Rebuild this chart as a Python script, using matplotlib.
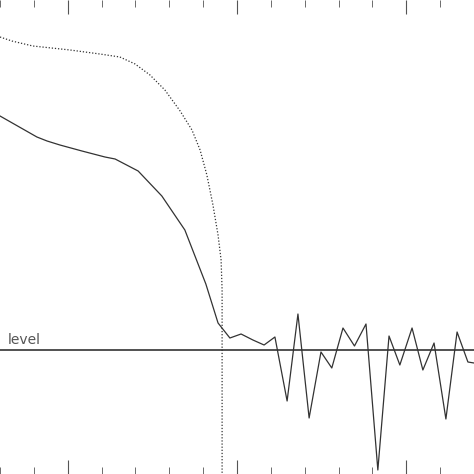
import matplotlib
matplotlib.use("Agg")
import matplotlib.pyplot as plt
import numpy as np

# values (x in tick units, y relative to the level line)
solid_x = [0, 1.09, 1.39, 1.77, 2.42, 3.10, 3.40, 4.08, 4.78, 5.46, 6.08, 6.44, 6.79, 7.12,
           7.47, 7.80, 8.12, 8.48, 8.80, 9.13, 9.48, 9.80, 10.13, 10.47, 10.81, 11.16, 11.49,
           11.81, 12.17, 12.49, 12.82, 13.17, 13.50, 13.82, 14.0]
solid_y = [234, 213, 209, 205, 199, 193, 191, 179, 154, 120, 66, 27, 12, 16, 10, 5, 13,
           -51, 36, -68, -2, -18, 22, 4, 26, -120, 14, -15, 22, -20, 7, -69, 18, -12, -13]
dot_x = [0, 0.35, 0.97, 2.07, 2.95, 3.54, 3.99, 4.43, 4.87, 5.32, 5.67, 5.91, 6.11,
         6.29, 6.44, 6.53, 6.56, 6.56]
dot_y = [313, 309, 304, 300, 296, 293, 286, 275, 260, 239, 220, 200, 175, 145, 115, 90, 60, -124]
level = 0

fig = plt.figure(figsize=(4.74, 4.74), dpi=100)
ax = fig.add_axes([0, 0, 1, 1])
ax.plot(solid_x, solid_y, color="#333333", lw=0.9)
ax.plot(dot_x, dot_y, color="#333333", lw=0.9, ls=(0, (1, 1.5)))
ax.axhline(level, color="#333333", lw=1.2)
ax.text(0.24, 3, "level", fontsize=10, color="#555555", va="bottom")

ax.set_xlim(0, 14)
ax.set_ylim(-124, 350)
for s in ax.spines.values():
    s.set_visible(False)
ax.set_xticks([2, 7, 12])
ax.set_xticks(np.arange(0, 15), minor=True)
ax.tick_params(axis="x", which="both", direction="in", top=True, bottom=True,
               labelbottom=False, color="#555555")
ax.tick_params(axis="x", which="major", length=10)
ax.tick_params(axis="x", which="minor", length=5)
ax.set_yticks([])
fig.savefig("out.png", dpi=100)
